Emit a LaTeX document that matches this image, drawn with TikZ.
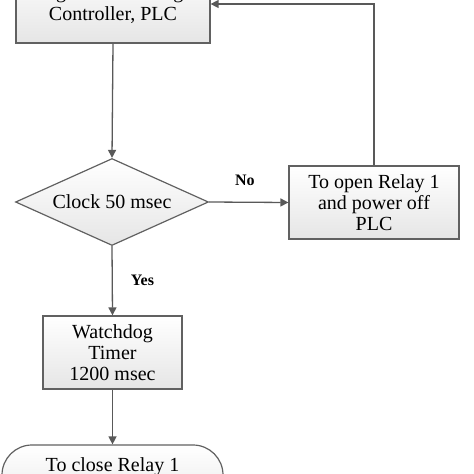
\documentclass[tikz,border=0pt]{standalone}
\usepackage{fontspec}
\setmainfont{Liberation Serif}
\usetikzlibrary{shapes.geometric,arrows.meta}
\begin{document}
\begin{tikzpicture}[x=1pt,y=-1pt,
  box/.style={draw=black!62, line width=1.2pt, top color=white, bottom color=black!10,
    inner sep=0pt, align=center, font=\fontsize{20}{20.8}\selectfont},
  dec/.style={box, diamond, aspect=2.2},
  conn/.style={draw=black!65, line width=1.3pt, -{Triangle[length=8pt,width=8pt]}},
  lbl/.style={font=\fontsize{16}{16}\selectfont\bfseries, inner sep=0pt}]
\useasboundingbox (0,0) rectangle (474,474);
\clip (0,0) rectangle (474,474);
\node[box, font=\fontsize{20}{21.5}\selectfont, minimum width=194, minimum height=78, text height=20pt, text depth=31pt] (top) at (113,4)
  {\begin{tabular}[t]{@{}c@{}}Programmable Logic\\Controller, PLC\end{tabular}};
\node[dec, minimum width=193, minimum height=87] (dia) at (112,202) {Clock 50 msec};
\node[box, minimum width=170, minimum height=73] (rbox) at (374,202.5) {To open Relay 1\\and power off\\PLC};
\node[box, minimum width=139, minimum height=73] (wd) at (112.5,352.5) {Watchdog\\Timer\\1200 msec};
\node[box, rounded corners=30pt, minimum width=221, minimum height=72, text height=14pt, text depth=34pt] (term) at (112.5,481) {To close Relay 1};
\draw[conn] (top.south) -- (dia.north);
\draw[conn] (dia.east) -- node[lbl, above=16pt, pos=0.45] (no) {No} (rbox.west);
\draw[conn] (rbox.north) |- (top.east);
\draw[conn] (dia.south) -- node[lbl, right=18pt, pos=0.5] (yes) {Yes} (wd.north);
\draw[conn] (wd.south) -- (term.north);
\end{tikzpicture}
\end{document}
